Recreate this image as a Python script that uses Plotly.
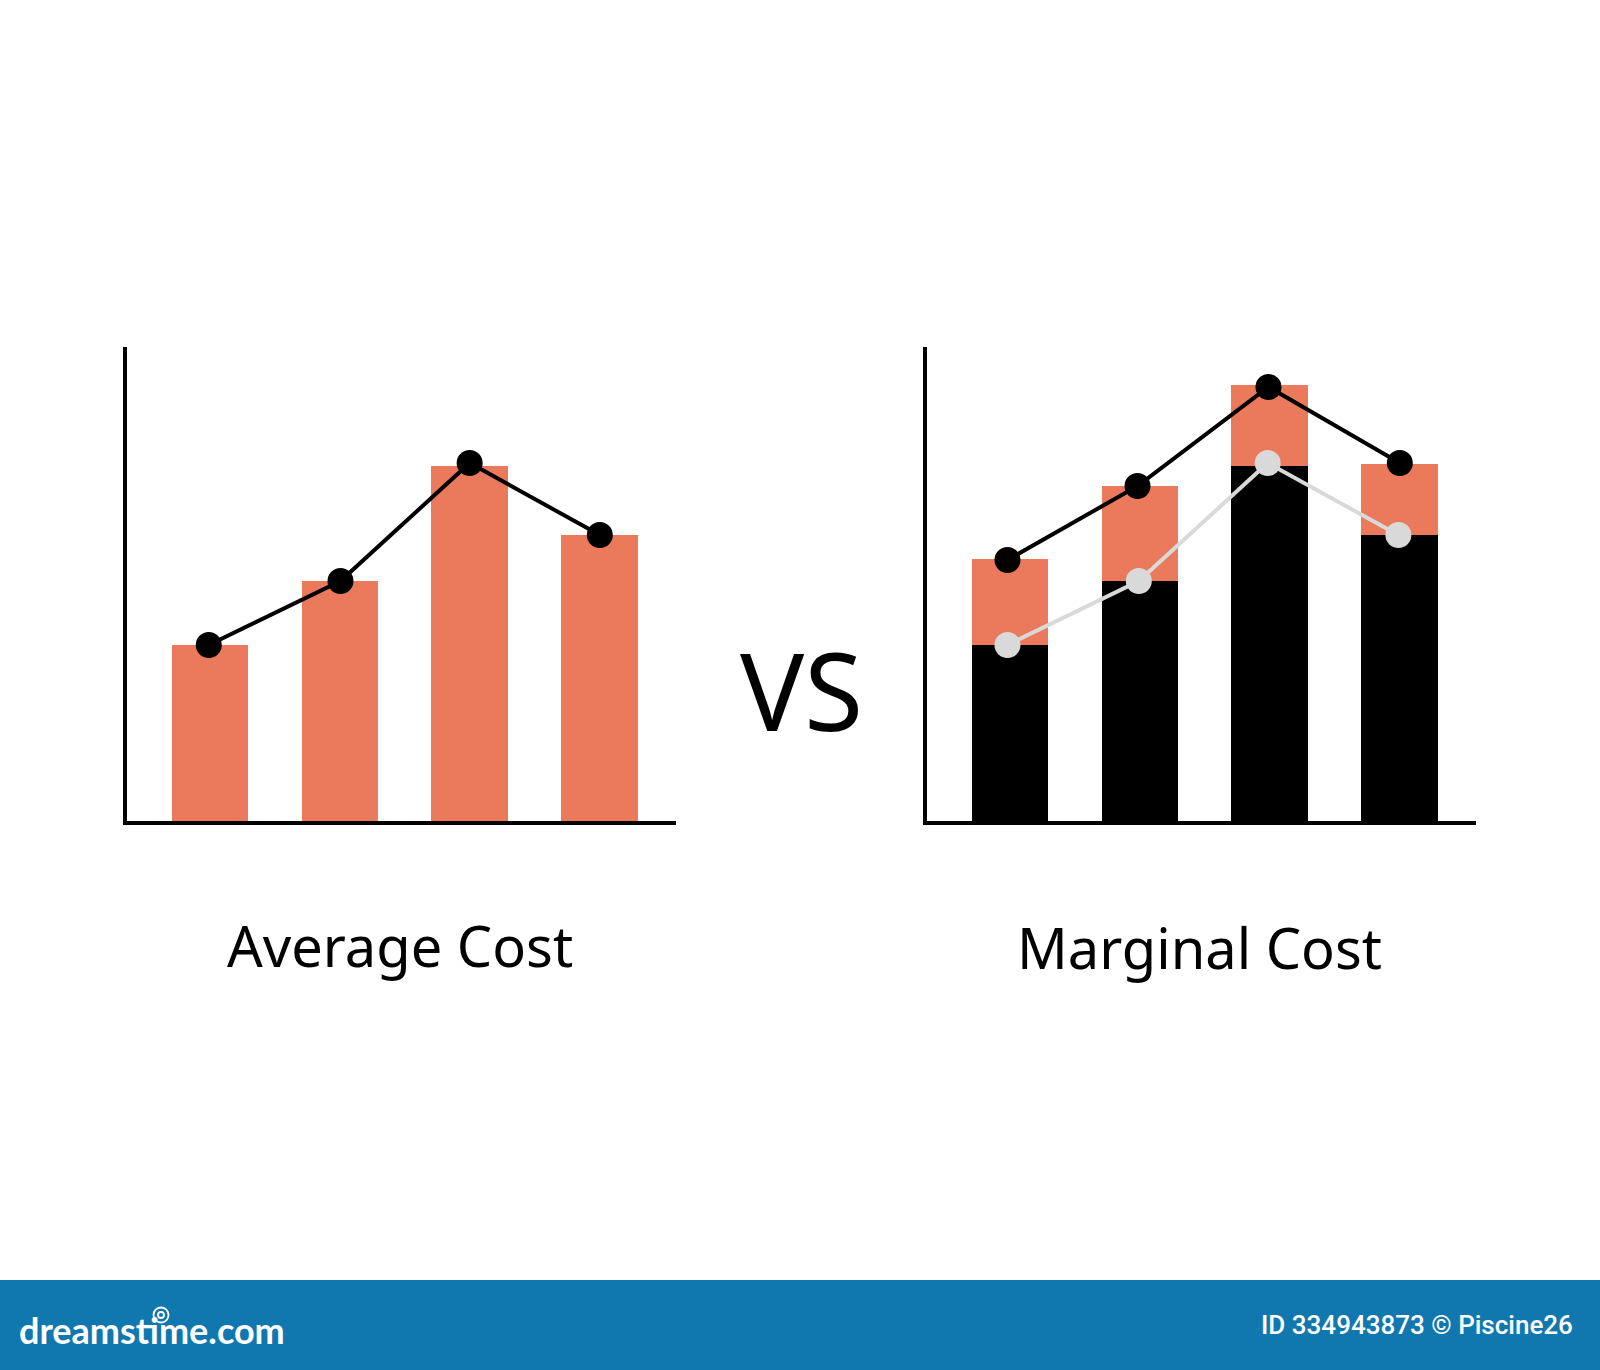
import plotly.graph_objects as go

W, H = 1600, 1370

# bar heights
positions = [0, 1, 2, 3]
average_cost = [176, 240, 355, 286]
marginal_base = [176, 240, 355, 286]
marginal_extra = [86, 95, 81, 71]

avg_line_x = [-0.01, 1.005, 2.0, 3.003]
avg_line_y = [176, 240, 358, 286]
total_line_x = [-0.02, 0.982, 1.991, 3.003]
total_line_y = [261, 335, 434, 358]
base_line_x = [-0.02, 0.992, 1.985, 2.992]
base_line_y = [176, 240, 358, 286]

ORANGE = '#EB7A5C'
GREY = '#D9D9D9'
BLUE = '#1177AF'


def line_trace(x, y, color, xaxis, yaxis):
    return go.Scatter(
        x=x, y=y, mode='lines+markers', xaxis=xaxis, yaxis=yaxis,
        line=dict(color=color, width=4),
        marker=dict(color=color, size=26), showlegend=False
    )


fig = go.Figure([
    go.Bar(x=positions, y=average_cost, marker_color=ORANGE, width=0.59,
           marker_line_width=0, xaxis='x', yaxis='y', showlegend=False),
    line_trace(avg_line_x, avg_line_y, 'black', 'x', 'y'),
    go.Bar(x=positions, y=marginal_base, marker_color='black', width=0.59,
           marker_line_width=0, xaxis='x2', yaxis='y2', showlegend=False),
    go.Bar(x=positions, y=marginal_extra, marker_color=ORANGE, width=0.59,
           marker_line_width=0, xaxis='x2', yaxis='y2', showlegend=False),
    line_trace(total_line_x, total_line_y, 'black', 'x2', 'y2'),
    line_trace(base_line_x, base_line_y, GREY, 'x2', 'y2'),
])


def label(text, x, y, size, family='Noto Sans', color='black', weight=None):
    # x, y are canvas pixels, y measured to the middle of the text
    return dict(text=text, xref='paper', yref='paper', x=x / W, y=1 - y / H,
                xanchor='center', yanchor='middle', showarrow=False,
                font=dict(family=family, size=size, color=color, weight=weight))


def ring(cx, cy, r):
    # logo swirl over the i of the footer text
    return dict(type='circle', xref='paper', yref='paper',
                x0=(cx - r) / W, x1=(cx + r) / W,
                y0=1 - (cy + r) / H, y1=1 - (cy - r) / H,
                line=dict(color='white', width=1.8))


axis_style = dict(showgrid=False, zeroline=False, showticklabels=False, ticks='',
                  showline=True, linecolor='black', linewidth=4)

fig.update_layout(
    width=W, height=H, margin=dict(l=0, r=0, t=0, b=0),
    paper_bgcolor='white', plot_bgcolor='rgba(0,0,0,0)',
    barmode='stack', showlegend=False,
    xaxis=dict(domain=[127 / W, 676 / W], range=[-0.64, 3.59], **axis_style),
    yaxis=dict(domain=[1 - 821 / H, 1 - 347 / H], range=[0, 474], **axis_style),
    xaxis2=dict(domain=[927 / W, 1476 / W], range=[-0.64, 3.59], anchor='y2', **axis_style),
    yaxis2=dict(domain=[1 - 821 / H, 1 - 347 / H], range=[0, 474], anchor='x2', **axis_style),
    shapes=[
        dict(type='rect', xref='paper', yref='paper', x0=0, x1=1,
             y0=0, y1=1 - 1280 / H, fillcolor=BLUE, line_width=0, layer='below'),
        ring(161, 1315, 7.5),
        ring(161, 1315, 3),
    ],
    annotations=[
        label('Average Cost', 400, 945, 56),
        label('VS', 801, 689, 107),
        label('Marginal Cost', 1199, 947, 56),
        label('dreamstime.com', 152, 1330, 36, family='Lato', color='white', weight=700),
        label('ID 334943873 © Piscine26', 1417, 1325, 26, family='Roboto', color='white', weight=500),
    ],
)

# the page has a default 8px body margin
fig.write_html("out.html", config=dict(displayModeBar=False),
               post_script="document.body.style.margin = '0';")
